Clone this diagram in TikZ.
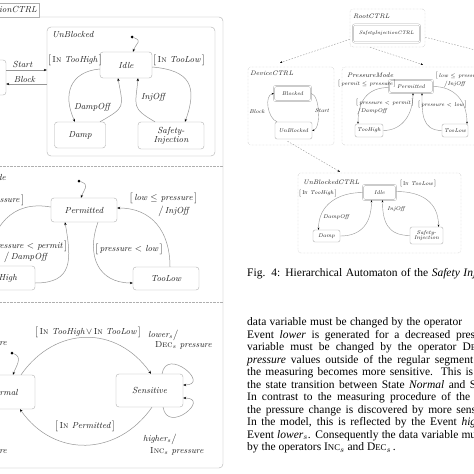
\documentclass[tikz,border=0pt]{standalone}
\usepackage{amsmath}
\usepackage{amssymb}
\usepackage{fontspec}
\newfontfamily\timesfont{Liberation Serif}
\usetikzlibrary{arrows.meta}

\definecolor{boxgray}{RGB}{175,175,175}
\definecolor{arcgray}{RGB}{150,150,150}
\definecolor{inkgray}{RGB}{30,30,30}

\newcommand{\IN}{\textup{\textsc{In}}}
\newcommand{\grd}[1]{$\bigl[$\,#1\,$\bigr]$}
\newcommand{\fsc}[2]{#1{\fontsize{8.8}{8}\selectfont #2}}

\begin{document}
\begin{tikzpicture}[x=1pt,y=1pt,
  every node/.style={text=inkgray},
  state/.style={draw=boxgray, fill=white, rounded corners=3pt, inner sep=0pt, font=\fontsize{8.8}{9}\selectfont\itshape},
  lbl/.style={inner sep=0pt, font=\fontsize{8.8}{10}\selectfont\itshape},
  region/.style={draw=boxgray, rounded corners=4pt, inner sep=0pt},
  trans/.style={draw=arcgray, line width=0.5pt, -{Stealth[length=3pt,width=2.4pt,color=black]}},
  initdot/.style={circle, fill=black, inner sep=0pt, minimum size=3pt},
  sep/.style={draw=boxgray, densely dotted},
  tstate/.style={draw=boxgray, fill=white, rounded corners=2pt, inner sep=0pt, font=\fontsize{5.5}{5.5}\selectfont\itshape},
  tinit/.style={tstate, double=white, double distance=0.9pt},
  tregion/.style={draw=boxgray, densely dotted, rounded corners=3pt, inner sep=0pt},
  tlbl/.style={inner sep=0pt, font=\fontsize{5.5}{6}\selectfont\itshape},
  thead/.style={inner sep=0pt, anchor=west, font=\fontsize{6.5}{7}\selectfont\itshape},
  ttrans/.style={draw=arcgray, line width=0.4pt, -{Stealth[length=2.2pt,width=1.8pt,color=black]}},
  hier/.style={draw=arcgray, line width=0.4pt, dash pattern=on 1.5pt off 1.5pt, -{Stealth[length=2.5pt,width=2pt,color=black]}},
  txt/.style={inner sep=0pt, anchor=base west, text=black, font=\timesfont\fontsize{11.5}{12.5}\selectfont},
]
\useasboundingbox (0,0) rectangle (474,-474);
\fill[white] (0,0) rectangle (474,-474);
\clip (0,0) rectangle (474,-474);

%%%%%%%%%%%%%%%% left chart (cut at the page edge)
%Shape: outer frame
\draw[region] (-10,-17) rectangle (223,-468);
\node[state, anchor=south east, rounded corners=0pt, minimum height=14pt, inner xsep=2pt] (sictab) at (39,-17) {SafetyInjectionCTRL};

%Shape: UnBlocked region
\node[region, minimum width=168pt, minimum height=129pt] (unblocked) at (131,-91.5) {};
\node[lbl, anchor=west] (unblockedlbl) at (52,-35) {UnBlocked};

\node[state, minimum width=50pt, minimum height=35pt] (blocked) at (-19,-77.5) {Blocked};
\node[state, minimum width=52pt, minimum height=26pt] (idle) at (126,-65) {Idle};
\node[state, minimum width=51pt, minimum height=26pt] (damp) at (80,-135) {Damp};
\node[state, minimum width=66pt, minimum height=27pt, align=center, font=\fontsize{8.8}{7.5}\selectfont\itshape] (safety) at (171,-135.5) {Safety-\\Injection};
\node[initdot] (idleinit) at (132,-37) {};

%Straight Lines
\draw[trans] ([yshift=7.5pt]blocked.east) -- ([yshift=21.5pt]unblocked.west);
\draw[trans] ([yshift=7.5pt]unblocked.west) -- ([yshift=-6.5pt]blocked.east);
%Curve Lines
\draw[trans] (idleinit) to[out=-20,in=70,distance=10] ([xshift=7pt]idle.north);
\draw[trans] ([yshift=-4pt]idle.west) to[out=185,in=115,distance=30] ([xshift=-5pt]damp.north);
\draw[trans] ([xshift=20pt]damp.north) to[out=30,in=-80,distance=30] ([xshift=-8pt]idle.south);
\draw[trans] ([yshift=-2pt]idle.east) to[out=-5,in=70,distance=38] ([xshift=14pt]safety.north);
\draw[trans] ([xshift=-16pt]safety.north) to[out=150,in=-95,distance=28] ([xshift=12pt]idle.south);

% Text Node
\node[lbl] (startlbl) at (22.5,-64) {Start};
\node[lbl] (blocklbl) at (24.5,-79) {Block};
\node[lbl] (toohighgrd) at (75,-60) {\grd{\IN\ TooHigh}};
\node[lbl] (toolowgrd) at (179,-60) {\grd{\IN\ TooLow}};
\node[lbl] (dampofflbl) at (92,-107) {DampOff};
\node[lbl] (injofflbl) at (153,-97) {InjOff};

%Shape: separators
\draw[sep] (-10,-166) -- (223,-166);
\draw[sep] (-10,-302) -- (223,-302);

\node[lbl, anchor=east] (pmlbl) at (6,-177) {PressureMode};
\node[state, minimum width=66pt, minimum height=24pt] (permitted) at (84,-210) {Permitted};
\node[state, minimum width=66pt, minimum height=23pt] (toolow) at (166,-278.5) {TooLow};
\node[state, minimum width=69pt, minimum height=24pt] (toohigh) at (0.5,-278) {TooHigh};
\node[initdot] (perminit) at (79,-181) {};

\draw[trans] (perminit) to[out=-20,in=70,distance=10] ([xshift=-3pt]permitted.north);
\draw[trans] ([yshift=3pt]permitted.west) to[out=170,in=80,distance=40] ([xshift=-15pt]toohigh.north);
\draw[trans] ([yshift=-5pt]toohigh.east) to[out=0,in=-80,distance=38] ([xshift=-19pt]permitted.south);
\draw[trans] ([xshift=14pt]permitted.south) to[out=250,in=180,distance=35] ([yshift=-4.5pt]toolow.west);
\draw[trans] ([xshift=4pt]toolow.north) to[out=90,in=0,distance=35] ([yshift=2pt]permitted.east);

\node[lbl, anchor=east] (permitgrd) at (25,-200) {\grd{permit $\leq$ pressure}};
\node[lbl, anchor=east] (pressgrd) at (68,-246.5) {\grd{pressure $<$ permit}};
\node[lbl, anchor=west] (pressact) at (4,-257.5) {$\big/$\,DampOff};
\node[lbl] (lowgrd) at (163.5,-198.5) {\grd{low $\leq$ pressure}};
\node[lbl] (lowact) at (173.5,-211) {$\big/$\,InjOff};
\node[lbl] (lessgrd) at (129,-249) {\grd{pressure $<$ low}};

%Shape: measuring part
\node[state, minimum width=64pt, minimum height=34pt] (normal) at (3,-392) {Normal};
\node[state, minimum width=67pt, minimum height=33pt] (sensitive) at (149.5,-390.5) {Sensitive};
\node[initdot] (norminit) at (12,-353) {};

\draw[trans] (norminit) to[out=-20,in=70,distance=10] ([xshift=10pt]normal.north);
\draw[trans] ([xshift=18pt]normal.north) to[out=55,in=125,distance=60] ([xshift=1.5pt]sensitive.north);
\draw[trans] ([xshift=2.5pt]sensitive.south) to[out=-125,in=-55,distance=60] ([xshift=17pt]normal.south);
\draw[trans] ([xshift=12.5pt]sensitive.north) to[out=80,in=0,distance=28] ([yshift=5.5pt]sensitive.east);
\draw[trans] ([xshift=13.5pt]sensitive.south) to[out=-80,in=0,distance=28] ([yshift=-7.5pt]sensitive.east);

\node[lbl] (sensgrd) at (88,-332) {\grd{\IN\ TooHigh\,$\vee$\,\IN\ TooLow}};
\node[lbl] (normgrd) at (85,-426) {\grd{\IN\ Permitted}};
\node[lbl, anchor=west] (lowerlbl) at (148,-335) {lower$_s\big/$};
\node[lbl, anchor=west] (declbl) at (155,-345) {\textup{\textsc{Dec}}$_s$ pressure};
\node[lbl, anchor=west] (higherlbl) at (143,-439) {higher$_s\big/$};
\node[lbl, anchor=west] (inclbl) at (150,-451) {\textup{\textsc{Inc}}$_s$ pressure};
\node[lbl, anchor=east] (normdec) at (7,-343) {\textup{\textsc{Dec}} pressure};
\node[lbl, anchor=east] (norminc) at (7,-451) {\textup{\textsc{Inc}} pressure};

%%%%%%%%%%%%%%%% Fig. 4
\node[tregion, minimum width=75pt, minimum height=38pt] (rootctrl) at (387.5,-28) {};
\node[thead] (rootlbl) at (353,-16.5) {RootCTRL};
\node[tinit, minimum width=67pt, minimum height=18pt, font=\fontsize{5}{5}\selectfont\itshape] (sictrl) at (386.5,-33.5) {SafetyInjectionCTRL};

\node[tregion, minimum width=86pt, minimum height=78pt] (devicectrl) at (291,-106) {};
\node[thead] (devicelbl) at (250,-73) {DeviceCTRL};
\node[tinit, minimum width=37pt, minimum height=15pt] (blockedt) at (292.5,-93.5) {Blocked};
\node[tstate, minimum width=37pt, minimum height=17pt] (unblockedt) at (293.5,-130.5) {UnBlocked};

\node[tregion, minimum width=148pt, minimum height=78pt] (pressuremode) at (416,-106) {};
\node[thead] (pressurelbl) at (347,-75) {PressureMode};
\node[tinit, minimum width=44pt, minimum height=13pt] (permittedt) at (411,-86.5) {Permitted};
\node[tstate, minimum width=28pt, minimum height=13pt] (toohight) at (369,-130.5) {TooHigh};
\node[tstate, minimum width=26pt, minimum height=13pt] (toolowt) at (455,-130.5) {TooLow};

\node[tregion, minimum width=163pt, minimum height=80pt] (unblockedctrl) at (379.5,-213) {};
\node[thead] (unblockedctrllbl) at (303,-182) {UnBlockedCTRL};
\node[tinit, minimum width=33pt, minimum height=15pt] (idlet) at (379.5,-192.5) {Idle};
\node[tstate, minimum width=27pt, minimum height=12pt] (dampt) at (326.5,-236) {Damp};
\node[tstate, minimum width=33pt, minimum height=17pt, align=center] (safetyt) at (426.5,-235.5) {Safety-\\Injection};

\coordinate (measctrl) at (530,-64);

%Dashed Lines
\draw[hier] ([yshift=8pt]rootctrl.south west) -- ([xshift=-11pt,yshift=4pt]devicectrl.north);
\draw[hier] ([xshift=-17.5pt]rootctrl.south) -- ([xshift=7pt,yshift=2pt]pressuremode.north);
\draw[hier] ([yshift=10pt]rootctrl.south east) -- (measctrl);
\draw[hier] ([xshift=-6pt,yshift=-2pt]unblockedt.south) -- ([xshift=-39.5pt,yshift=1pt]unblockedctrl.north);

%Curve Lines
\draw[ttrans] (blockedt.east) to[out=-10,in=10,distance=9] (unblockedt.east);
\draw[ttrans] ([xshift=-16.5pt]unblockedt.north) to[out=160,in=190,distance=10] (blockedt.west);
\draw[ttrans] ([yshift=-1pt]permittedt.west) to[out=180,in=90,distance=22] ([xshift=-11pt]toohight.north);
\draw[ttrans] (toohight.east) to[out=0,in=-90,distance=20] ([xshift=2pt]permittedt.south);
\draw[ttrans] (toolowt.west) to[out=180,in=-90,distance=20] ([xshift=11pt]permittedt.south);
\draw[ttrans] (permittedt.east) to[out=0,in=90,distance=22] ([xshift=12pt]toolowt.north);
\draw[ttrans] (idlet.west) to[out=180,in=90,distance=25] ([xshift=-8pt]dampt.north);
\draw[ttrans] (dampt.east) to[out=0,in=-90,distance=22] ([xshift=-8pt]idlet.south);
\draw[ttrans] (safetyt.west) to[out=180,in=-90,distance=22] ([xshift=3pt]idlet.south);
\draw[ttrans] ([yshift=1pt]idlet.east) to[out=0,in=90,distance=25] ([xshift=12pt]safetyt.north);

% Text Node
\node[tlbl] (blocktl) at (257,-112) {Block};
\node[tlbl] (starttl) at (322,-111) {Start};
\node[tlbl] (permittl) at (367,-84) {\grd{permit $\leq$ pressure}};
\node[tlbl, anchor=west] (lowtl) at (435,-76) {\grd{low $\leq$ pressure}};
\node[tlbl] (injtl) at (454.5,-84.5) {$\big/$InjOff};
\node[tlbl] (presstl) at (385,-103) {\grd{pressure $<$ permit}};
\node[tlbl] (damptl) at (372,-111.5) {$\big/$DampOff};
\node[tlbl] (lesstl) at (442.5,-105) {\grd{pressure $<$ low}};
\node[tlbl] (toohightl) at (318,-193.5) {\grd{\IN\ TooHigh}};
\node[tlbl] (toolowtl) at (418,-184) {\grd{\IN\ TooLow}};
\node[tlbl] (dampofftl) at (336,-217) {DampOff};
\node[tlbl] (injofftl) at (396,-209) {InjOff};

%%%%%%%%%%%%%%%% caption and text
\node[txt] (caption) at (247,-276.5) {\makebox[229pt][s]{Fig. 4: Hierarchical Automaton of the \textit{Safety Inj}}};
\node[txt] (line1) at (247,-325.5) {\makebox[215pt][s]{data variable must be changed by the operator}};
\node[txt] (line2) at (247,-338) {\makebox[228pt][s]{Event \textit{lower} is generated for a decreased pres}};
\node[txt] (line3) at (247,-350.5) {\makebox[229pt][s]{variable must be changed by the operator \fsc{D}{E}}};
\node[txt] (line4) at (247,-363) {\makebox[226pt][s]{\textit{pressure} values outside of the regular segment}};
\node[txt] (line5) at (247,-375.5) {\makebox[226pt][s]{the measuring becomes more sensitive. This is}};
\node[txt] (line6) at (247,-388) {\makebox[229pt][s]{the state transition between State \textit{Normal} and S}};
\node[txt] (line7) at (247,-400.5) {\makebox[223pt][s]{In contrast to the measuring procedure of the}};
\node[txt] (line8) at (247,-413) {\makebox[229pt][s]{the pressure change is discovered by more sens}};
\node[txt] (line9) at (247,-425.5) {\makebox[229pt][s]{In the model, this is reflected by the Event \textit{hig}}};
\node[txt] (line10) at (247,-438) {\makebox[229pt][s]{Event \textit{lower$_s$}. Consequently the data variable mu}};
\node[txt] (line11) at (247,-450.5) {by the operators \fsc{I}{NC}$_s$ and \fsc{D}{EC}$_s$\,.};

\end{tikzpicture}
\end{document}
